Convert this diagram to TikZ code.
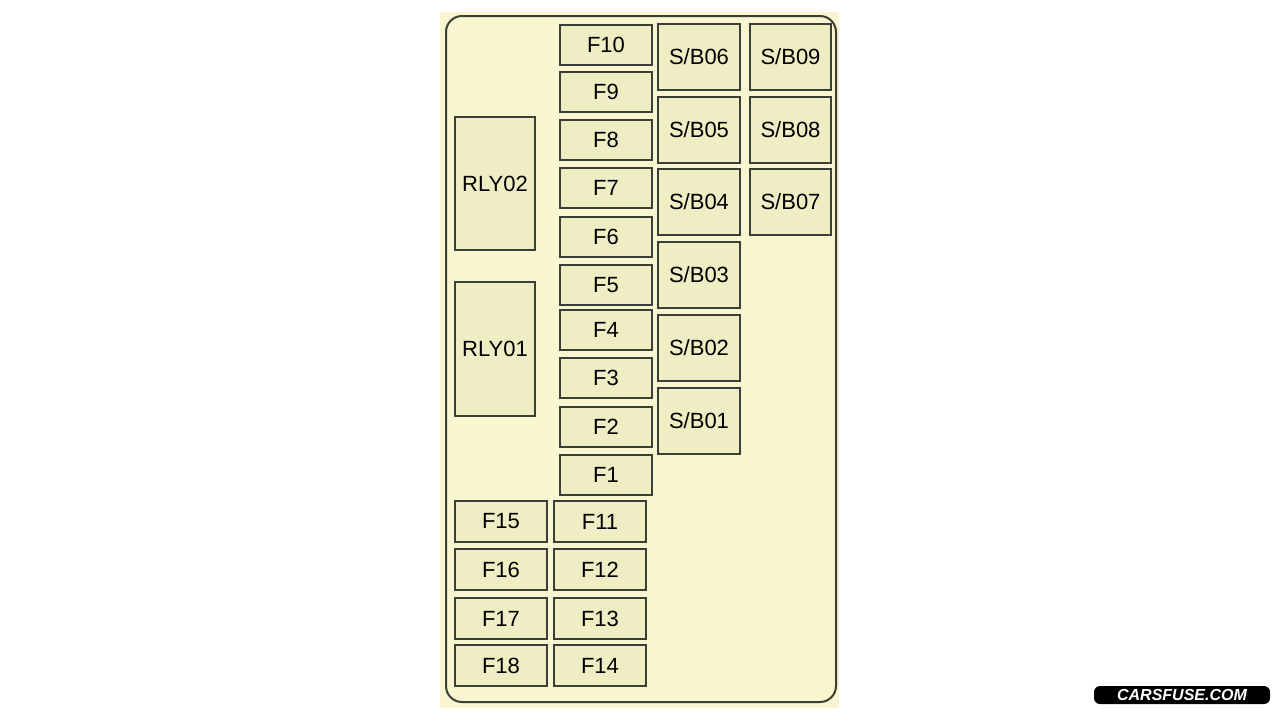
\documentclass[tikz,border=0pt]{standalone}
\usepackage{fontspec}
\setmainfont{Liberation Sans}
\definecolor{panel}{HTML}{F8F6D0}
\definecolor{slot}{HTML}{EFEDC3}
\definecolor{edge}{HTML}{3A4038}
\tikzset{
	fuse/.style={draw=edge, line width=1pt, fill=slot, inner sep=0pt, font=\fontsize{11}{11}\selectfont},
}
\begin{document}
\begin{tikzpicture}[x=0.5pt,y=-0.5pt]
	\useasboundingbox (0,0) rectangle (1280,720);
	\fill[panel] (440,12) rectangle (839,708);
	\draw[edge, line width=1pt, rounded corners=8] (446,16) rectangle (836,702);

	% fuses F1..F10
	\foreach \n/\y in {10/24,9/71,8/119,7/167,6/216,5/264,4/309,3/357,2/406,1/454}{
		\node[fuse, minimum width=46pt, minimum height=20pt, anchor=north west] (F\n) at (559,\y) {F\n};
	}
	% fuses F11..F18
	\foreach \a/\b/\y in {11/15/500,12/16/548,13/17/597,14/18/644}{
		\node[fuse, minimum width=46pt, minimum height=20.5pt, anchor=north west] (F\a) at (553,\y) {F\a};
		\node[fuse, minimum width=46pt, minimum height=20.5pt, anchor=north west] (F\b) at (454,\y) {F\b};
	}
	% S/B blocks
	\foreach \n/\y in {06/23,05/96,04/168,03/241,02/314,01/387}{
		\node[fuse, minimum width=41pt, minimum height=33pt, anchor=north west] (SB\n) at (657,\y) {S/B\n};
	}
	\foreach \n/\y in {09/23,08/96,07/168}{
		\node[fuse, minimum width=40.5pt, minimum height=33pt, anchor=north west] (SB\n) at (749,\y) {S/B\n};
	}
	% relays
	\node[fuse, minimum width=40pt, minimum height=66.5pt, anchor=north west] (RLY02) at (454,116) {RLY02};
	\node[fuse, minimum width=40pt, minimum height=67pt, anchor=north west] (RLY01) at (454,281) {RLY01};

	% watermark
	\node[fill=black, rounded corners=3pt, text=white, minimum width=88pt, minimum height=9pt, inner sep=0pt,
		font=\fontsize{8}{8}\selectfont\bfseries\itshape] (mark) at (1182,695) {CARSFUSE.COM};
\end{tikzpicture}
\end{document}
